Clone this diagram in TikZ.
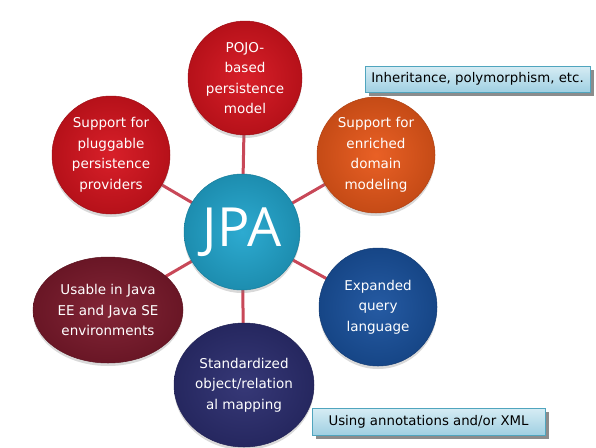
\documentclass[tikz,border=0pt]{standalone}
\usepackage{fontspec}
\setmainfont{DejaVu Sans}
\newfontfamily\jpafont{Open Sans}
\usetikzlibrary{shapes.geometric,shadows}
\pgfdeclarelayer{bg}
\pgfsetlayers{bg,main}
\definecolor{cJPA}{RGB}{34,166,206}
\definecolor{cRed}{RGB}{214,20,30}
\definecolor{cOrange}{RGB}{232,88,26}
\definecolor{cBlue}{RGB}{26,82,158}
\definecolor{cNavy}{RGB}{44,46,112}
\definecolor{cMaroon}{RGB}{124,26,44}
\definecolor{cLink}{RGB}{200,72,88}
\definecolor{cNoteTop}{RGB}{214,236,244}
\definecolor{cNoteBot}{RGB}{160,208,226}
\definecolor{cNoteLine}{RGB}{80,165,190}
\begin{document}
\begin{tikzpicture}[x=1pt,y=-1pt,
  bubble/.style={ellipse, inner sep=0pt, text=white, align=center,
    font=\fontsize{13.5}{20.5}\selectfont,
    inner color=#1!95!white, outer color=#1!85!black,
    draw=#1!75!black, line width=0.5pt,
    drop shadow={opacity=0.3, shadow xshift=0pt, shadow yshift=-3pt}},
  link/.style={cLink, line width=3pt},
  note/.style={rectangle, inner sep=0pt, top color=cNoteTop, bottom color=cNoteBot,
    draw=cNoteLine, line width=0.6pt, font=\fontsize{13.3}{15}\selectfont, text=black,
    drop shadow={fill=black!45, opacity=1, shadow xshift=4pt, shadow yshift=-4pt}}]
\useasboundingbox (0,0) rectangle (596,447);

\node[bubble=cJPA, minimum width=116pt, minimum height=116pt, font=\jpafont\fontsize{54}{60}\selectfont] (jpa) at (242,232) {JPA};
\node[bubble=cRed, minimum width=114pt, minimum height=114pt] (pojo) at (245,78) {POJO-\\based\\persistence\\model};
\node[bubble=cRed, minimum width=118pt, minimum height=118pt] (plug) at (111,155) {Support for\\pluggable\\persistence\\providers};
\node[bubble=cOrange, minimum width=118pt, minimum height=116pt] (dom) at (376,155) {Support for\\enriched\\domain\\modeling};
\node[bubble=cBlue, minimum width=118pt, minimum height=118pt] (query) at (378,307) {Expanded\\query\\language};
\node[bubble=cNavy, minimum width=140pt, minimum height=124pt] (orm) at (244,385) {Standardized\\object/relation\\al mapping};
\node[bubble=cMaroon, minimum width=150pt, minimum height=106pt] (java) at (108,310) {Usable in Java\\EE and Java SE\\environments};

\begin{pgfonlayer}{bg}
\foreach \n in {pojo,plug,dom,query,orm,java}
  \draw[link] (jpa.center) -- (\n.center);
\end{pgfonlayer}

\node[note, minimum width=225pt, minimum height=26pt] (n1) at (477.5,79) {Inheritance, polymorphism, etc.};
\node[note, minimum width=233pt, minimum height=27pt] (n2) at (428.5,421.5) {Using annotations and/or XML};
\end{tikzpicture}
\end{document}
